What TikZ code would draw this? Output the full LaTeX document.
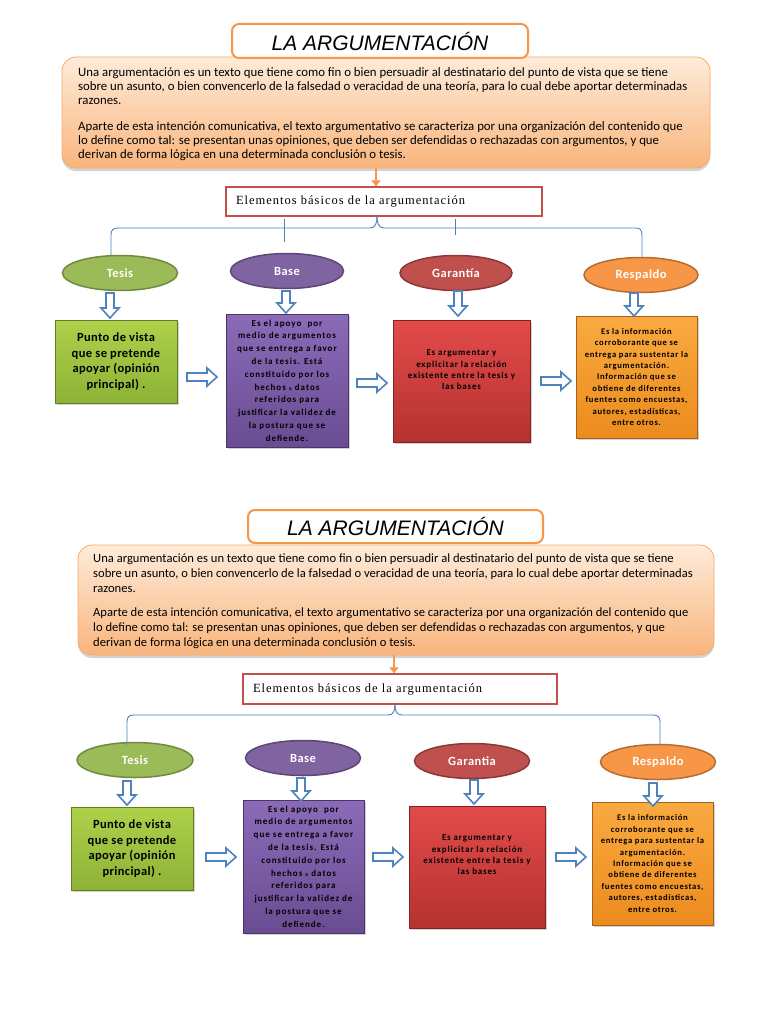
\documentclass[tikz,border=0pt]{standalone}
\usepackage{fontspec}
\setmainfont{Carlito}
\newfontfamily\titlefam{Liberation Sans}
\newfontfamily\elfam{Liberation Serif}[LetterSpace=8]
\usetikzlibrary{shapes.geometric,shadows,arrows.meta}
\definecolor{orng}{HTML}{F79646}
\definecolor{orngtop}{HTML}{FEEBDA}
\definecolor{orngbot}{HTML}{F9B57C}
\definecolor{redb}{HTML}{C0504D}
\definecolor{blu}{HTML}{4F81BD}
\definecolor{grnE}{HTML}{9BBB59}
\definecolor{grnEd}{HTML}{71893F}
\definecolor{purE}{HTML}{8064A2}
\definecolor{purEd}{HTML}{5C4776}
\definecolor{redE}{HTML}{C0504D}
\definecolor{redEd}{HTML}{8C3836}
\definecolor{orgE}{HTML}{F79646}
\definecolor{orgEd}{HTML}{B66D31}
\definecolor{gbT}{HTML}{AED14A}
\definecolor{gbB}{HTML}{8DB236}
\definecolor{pbT}{HTML}{8B6BB8}
\definecolor{pbB}{HTML}{6A4C92}
\definecolor{rbT}{HTML}{E24B4A}
\definecolor{rbB}{HTML}{B53231}
\definecolor{obT}{HTML}{F9AA40}
\definecolor{obB}{HTML}{EC8B1E}
\newcommand\harrdown[3]{%
  \draw[harrow] (#1-4,#2) -- (#1+4,#2) -- (#1+4,#3-10) -- (#1+9,#3-10) -- (#1,#3)
     -- (#1-9,#3-10) -- (#1-4,#3-10) -- cycle;}
\newcommand\harrright[3]{%
  \draw[harrow] (#1,#3-4) -- (#2-10,#3-4) -- (#2-10,#3-9) -- (#2,#3) -- (#2-10,#3+9)
     -- (#2-10,#3+4) -- (#1,#3+4) -- cycle;}
\newcommand\smallo{{\fontsize{5.5}{5}\selectfont o}}
\newcommand\lsp[1]{\addfontfeature{LetterSpace=#1}}
\begin{document}
\begin{tikzpicture}[x=1pt,y=-1pt,
  titlebox/.style={draw=orng, line width=2pt, rounded corners=7pt, fill=white,
     font=\titlefam\itshape\fontsize{21}{22}\selectfont, inner sep=0pt},
  infobox/.style={draw=orng!80, line width=0.8pt, rounded corners=14pt, top color=orngtop,
     bottom color=orngbot, drop shadow={shadow xshift=0pt, shadow yshift=-3pt, opacity=0.35}},
  para/.style={anchor=base west, align=left, inner sep=0pt, text=black},
  elembox/.style={draw=redb, line width=1.4pt, fill=white, align=left, inner xsep=10pt,
     font=\elfam\fontsize{12.5}{14}\selectfont},
  brace/.style={draw=blu, line width=0.9pt},
  ell/.style={ellipse, line width=1.5pt, text=white, inner sep=0pt,
     font=\bfseries\lsp{4}\fontsize{12.5}{13}\selectfont},
  harrow/.style={draw=blu, line width=1.6pt, fill=white, line join=miter},
  cbox/.style={rectangle, draw=#1!70!black, line width=0.6pt, align=center, inner sep=0pt,
     drop shadow={shadow xshift=2pt, shadow yshift=-2pt, opacity=0.35}},
  btxt/.style={align=center, inner sep=0pt, text=black},
  orngarr/.style={draw=orng, line width=2pt, -{Triangle[length=6pt,width=9pt]}},
]
\useasboundingbox[fill=white] (0,0) rectangle (768,1024);

% ================= TOP SECTION =================
\node[infobox, minimum width=648, minimum height=111] (i1) at (386,112.5) {};
\node[titlebox, minimum width=296, minimum height=34] (t1) at (380,41) {LA ARGUMENTACIÓN};
\node[para, font=\fontsize{12.8}{14}\selectfont] (i1p1) at (78,105)
 {Una argumentación es un texto que tiene como fin o bien persuadir al destinatario del punto de vista que se tiene\\
  sobre un asunto, o bien convencerlo de la falsedad o veracidad de una teoría, para lo cual debe aportar determinadas\\
  razones.};
\node[para, font=\fontsize{12.8}{14}\selectfont] (i1p2) at (78,159)
 {Aparte de esta intención comunicativa, el texto argumentativo se caracteriza por una organización del contenido que\\
  lo define como tal: se presentan unas opiniones, que deben ser defendidas o rechazadas con argumentos, y que\\
  derivan de forma lógica en una determinada conclusión o tesis.};
\node[elembox, minimum width=316, text width=296, minimum height=29] (e1) at (384,201.5)
 {Elementos básicos de la argumentación};
\draw[orngarr] ([xshift=-10pt]i1.south) -- ([xshift=-10pt]i1.south |- e1.north);

% ellipses
\node[ell, draw=grnEd, fill=grnE, minimum width=115, minimum height=35] (ta1) at (120,273) {Tesis};
\node[ell, draw=purEd, fill=purE, minimum width=113, minimum height=35] (ba1) at (287,271) {Base};
\node[ell, draw=redEd, fill=redE, minimum width=112, minimum height=35] (ga1) at (456,273) {Garantía};
\node[ell, draw=orgEd, fill=orgE, minimum width=114, minimum height=35] (ra1) at (641,275) {Respaldo};

% brace
\coordinate (bt1) at (377,216);
\draw[brace] (bt1) .. controls (377,222) and (376,228) .. (370,228) -- (118,228)
   .. controls (113,228) and (111,230) .. (111,235) -- (ta1.north -| 111,0);
\draw[brace] (bt1) .. controls (377,222) and (378,228) .. (384,228) -- (636,228)
   .. controls (640,228) and (642,230) .. (642,235) -- (642,257);
\draw[brace] (284,219) -- (284,242);
\draw[brace] (455,219) -- (455,235);

% boxes
\node[cbox=gbB, top color=gbT, bottom color=gbB, minimum width=122, minimum height=83,
  font=\bfseries\lsp{3}\fontsize{12.5}{15.7}\selectfont] (tb1) at (116,361.5)
  {Punto de vista\\que se pretende\\apoyar (opinión\\principal) .};
\node[cbox=pbB, top color=pbT, bottom color=pbB, minimum width=122, minimum height=133,
  font=\bfseries\lsp{11}\fontsize{9}{12.8}\selectfont] (bb1) at (287,380.5)
  {Es el apoyo~ por\\medio de argumentos\\que se entrega a favor\\de la tesis. Está\\constituido por los\\hechos \smallo{} datos\\referidos para\\justificar la validez de\\la postura que se\\defiende.};
\node[cbox=rbB, top color=rbT, bottom color=rbB, minimum width=137, minimum height=122] (gb1) at (461.5,381) {};
\node[btxt, font=\bfseries\lsp{9}\fontsize{9}{11.3}\selectfont] (gb1t) at (461.5,370)
  {Es argumentar y\\explicitar la relación\\existente entre la tesis y\\las bases};
\node[cbox=obB, top color=obT, bottom color=obB, minimum width=121, minimum height=122,
  font=\bfseries\lsp{8}\fontsize{8.6}{11.4}\selectfont] (rb1) at (636.5,377)
  {Es la información\\corroborante que se\\entrega para sustentar la\\argumentación.\\Información que se\\obtiene de diferentes\\fuentes como encuestas,\\autores, estadísticas,\\entre otros.};

% block arrows
\harrdown{110}{293}{318}
\harrdown{286}{291}{313}
\harrdown{458}{291}{316}
\harrdown{634}{293}{316}
\harrright{187}{217}{377}
\harrright{357}{387}{383}
\harrright{541}{571}{381}

% ================= BOTTOM SECTION =================
\node[infobox, minimum width=636, minimum height=110] (i2) at (396,600) {};
\node[titlebox, minimum width=295, minimum height=33] (t2) at (395.5,526.5) {LA ARGUMENTACIÓN};
\node[para, font=\fontsize{12.6}{15}\selectfont] (i2p1) at (93,592)
 {Una argumentación es un texto que tiene como fin o bien persuadir al destinatario del punto de vista que se tiene\\
  sobre un asunto, o bien convencerlo de la falsedad o veracidad de una teoría, para lo cual debe aportar determinadas\\
  razones.};
\node[para, font=\fontsize{12.6}{15}\selectfont] (i2p2) at (93,646)
 {Aparte de esta intención comunicativa, el texto argumentativo se caracteriza por una organización del contenido que\\
  lo define como tal: se presentan unas opiniones, que deben ser defendidas o rechazadas con argumentos, y que\\
  derivan de forma lógica en una determinada conclusión o tesis.};
\node[elembox, minimum width=314, text width=294, minimum height=30] (e2) at (400,689)
 {Elementos básicos de la argumentación};
\draw[orngarr] ([xshift=-2pt]i2.south) -- ([xshift=-2pt]i2.south |- e2.north);

\node[ell, draw=grnEd, fill=grnE, minimum width=116, minimum height=35] (ta2) at (135,760) {Tesis};
\node[ell, draw=purEd, fill=purE, minimum width=115, minimum height=35] (ba2) at (303,758) {Base};
\node[ell, draw=redEd, fill=redE, minimum width=115, minimum height=35] (ga2) at (472,761) {Garantia};
\node[ell, draw=orgEd, fill=orgE, minimum width=115, minimum height=35] (ra2) at (658,762) {Respaldo};

\coordinate (bt2) at (395,704);
\draw[brace] (bt2) .. controls (395,710) and (394,715) .. (388,715) -- (134,715)
   .. controls (129,715) and (127,717) .. (127,722) -- (127,745);
\draw[brace] (bt2) .. controls (395,710) and (396,715) .. (402,715) -- (653,715)
   .. controls (658,715) and (660,717) .. (660,722) -- (660,745);

\node[cbox=gbB, top color=gbT, bottom color=gbB, minimum width=122, minimum height=83,
  font=\bfseries\lsp{3}\fontsize{12.5}{15.7}\selectfont] (tb2) at (132,848.5)
  {Punto de vista\\que se pretende\\apoyar (opinión\\principal) .};
\node[cbox=pbB, top color=pbT, bottom color=pbB, minimum width=121, minimum height=133,
  font=\bfseries\lsp{11}\fontsize{9}{12.8}\selectfont] (bb2) at (303.5,866.5)
  {Es el apoyo~ por\\medio de argumentos\\que se entrega a favor\\de la tesis. Está\\constituido por los\\hechos \smallo{} datos\\referidos para\\justificar la validez de\\la postura que se\\defiende.};
\node[cbox=rbB, top color=rbT, bottom color=rbB, minimum width=136, minimum height=122] (gb2) at (477,867) {};
\node[btxt, font=\bfseries\lsp{9}\fontsize{9}{11.3}\selectfont] (gb2t) at (477,855)
  {Es argumentar y\\explicitar la relación\\existente entre la tesis y\\las bases};
\node[cbox=obB, top color=obT, bottom color=obB, minimum width=121, minimum height=123,
  font=\bfseries\lsp{8}\fontsize{8.6}{11.4}\selectfont] (rb2) at (652.5,863.5)
  {Es la información\\corroborante que se\\entrega para sustentar la\\argumentación.\\Información que se\\obtiene de diferentes\\fuentes como encuestas,\\autores, estadísticas,\\entre otros.};

\harrdown{127}{781}{805}
\harrdown{301}{778}{801}
\harrdown{474}{780}{804}
\harrdown{653}{783}{806}
\harrright{206}{236}{857}
\harrright{373}{403}{857}
\harrright{556}{586}{857}
\end{tikzpicture}
\end{document}
